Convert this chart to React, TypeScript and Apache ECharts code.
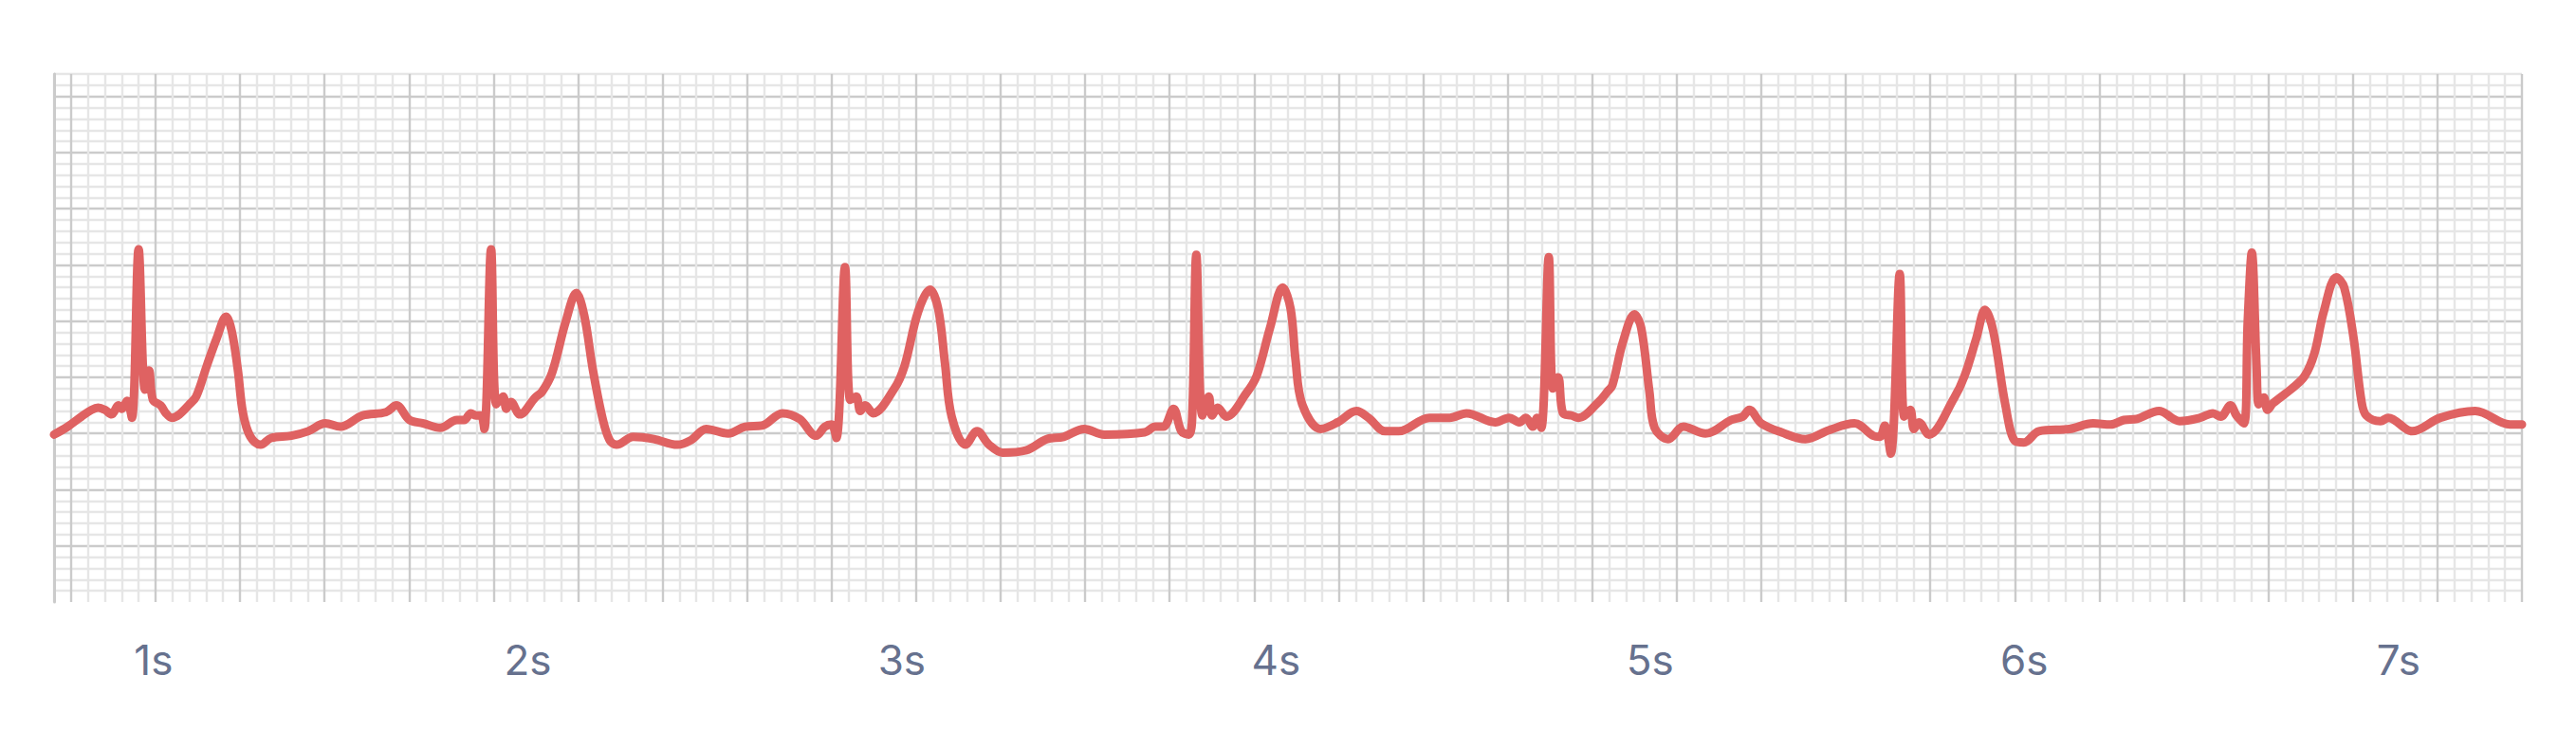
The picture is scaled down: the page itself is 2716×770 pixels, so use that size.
import React, { useEffect, useRef } from "react";
import * as echarts from "echarts";

// Time in seconds of each traced sample
const TIME_S = [
  0.734, 0.77, 0.807, 0.834, 0.852, 0.87, 0.888, 0.906, 0.915, 0.929, 0.942, 0.96, 0.977, 0.988, 0.998,
  1.019, 1.033, 1.049, 1.069, 1.096, 1.114, 1.142, 1.169, 1.194, 1.209, 1.225, 1.239, 1.259, 1.286, 1.314,
  1.368, 1.413, 1.459, 1.499, 1.558, 1.621, 1.649, 1.684, 1.721, 1.766, 1.811, 1.83, 1.848, 1.861, 1.875,
  1.884, 1.902, 1.916, 1.934, 1.943, 1.955, 1.979, 2.02, 2.038, 2.065, 2.101, 2.13, 2.151, 2.174, 2.201,
  2.219, 2.237, 2.282, 2.337, 2.4, 2.436, 2.477, 2.536, 2.581, 2.626, 2.681, 2.726, 2.771, 2.794, 2.812,
  2.825, 2.848, 2.862, 2.878, 2.889, 2.902, 2.923, 2.98, 3.007, 3.043, 3.075, 3.097, 3.115, 3.133, 3.17,
  3.201, 3.233, 3.269, 3.332, 3.387, 3.432, 3.487, 3.541, 3.649, 3.677, 3.699, 3.726, 3.747, 3.767, 3.776,
  3.787, 3.803, 3.82, 3.829, 3.844, 3.867, 3.921, 3.948, 3.984, 4.018, 4.039, 4.052, 4.07, 4.12, 4.165,
  4.215, 4.247, 4.292, 4.328, 4.41, 4.464, 4.509, 4.586, 4.623, 4.65, 4.668, 4.686, 4.698, 4.709, 4.729,
  4.74, 4.754, 4.767, 4.79, 4.808, 4.862, 4.885, 4.899, 4.926, 4.958, 4.976, 4.998, 5.012, 5.048, 5.089,
  5.148, 5.216, 5.247, 5.265, 5.297, 5.351, 5.415, 5.478, 5.546, 5.596, 5.614, 5.627, 5.643, 5.667, 5.679,
  5.695, 5.705, 5.718, 5.745, 5.813, 5.84, 5.872, 5.895, 5.917, 5.949, 5.976, 5.999, 6.039, 6.121, 6.184,
  6.23, 6.266, 6.301, 6.36, 6.415, 6.47, 6.504, 6.525, 6.551, 6.567, 6.587, 6.597, 6.608, 6.621, 6.627,
  6.64, 6.65, 6.665, 6.715, 6.749, 6.775, 6.8, 6.834, 6.855, 6.88, 6.901, 6.914, 6.952, 6.973, 7.036,
  7.112, 7.205, 7.298, 7.33,
];

// Amplitude in mV of each traced sample
const VOLTAGE_MV = [
  -0.01, 0.06, 0.15, 0.21, 0.23, 0.21, 0.17, 0.25, 0.22, 0.29, 0.14, 1.64, 0.39, 0.56, 0.3,
  0.25, 0.18, 0.14, 0.17, 0.26, 0.33, 0.6, 0.85, 1.04, 0.91, 0.57, 0.18, -0.03, -0.1, -0.04,
  -0.02, 0.02, 0.09, 0.06, 0.16, 0.19, 0.25, 0.12, 0.09, 0.05, 0.12, 0.12, 0.18, 0.16, 0.16,
  0.04, 1.64, 0.26, 0.33, 0.22, 0.28, 0.17, 0.32, 0.37, 0.54, 0.99, 1.25, 1.05, 0.57, 0.12,
  -0.06, -0.1, -0.03, -0.05, -0.1, -0.06, 0.04, 0.0, 0.06, 0.07, 0.18, 0.13, -0.02, 0.06, 0.08,
  -0.04, 1.48, 0.3, 0.33, 0.2, 0.25, 0.18, 0.4, 0.6, 1.08, 1.28, 1.11, 0.63, 0.15, -0.1,
  0.02, -0.1, -0.17, -0.15, -0.05, -0.03, 0.04, -0.01, 0.01, 0.06, 0.06, 0.22, 0.02, -0.01, 0.15,
  1.59, 0.16, 0.33, 0.16, 0.23, 0.15, 0.36, 0.51, 0.94, 1.3, 1.11, 0.66, 0.26, 0.04, 0.1,
  0.2, 0.14, 0.02, 0.02, 0.14, 0.14, 0.18, 0.1, 0.14, 0.1, 0.14, 0.06, 0.14, 0.05, 1.57,
  0.4, 0.5, 0.18, 0.16, 0.14, 0.28, 0.37, 0.43, 0.8, 1.06, 0.94, 0.37, 0.05, -0.05, 0.06,
  0.0, 0.12, 0.15, 0.21, 0.09, 0.01, -0.05, 0.03, 0.09, -0.02, -0.03, 0.07, -0.18, 1.42, 0.15,
  0.21, 0.04, 0.1, -0.01, 0.32, 0.51, 0.85, 1.1, 0.91, 0.26, -0.07, -0.08, 0.02, 0.04, 0.09,
  0.08, 0.12, 0.13, 0.2, 0.11, 0.14, 0.18, 0.15, 0.25, 0.16, 0.09, 0.99, 1.61, 0.57, 0.26,
  0.32, 0.21, 0.27, 0.4, 0.51, 0.71, 1.08, 1.39, 1.3, 0.85, 0.29, 0.16, 0.11, 0.14, 0.02,
  0.14, 0.2, 0.08, 0.08,
];

// Tick labels on the time axis (seconds)
const SECOND_TICKS = [1, 2, 3, 4, 5, 6, 7];

// Visible window
const T_MIN = 0.734;
const T_MAX = 7.33;
const V_MIN = -1.5;
const V_MAX = 3.2;

// ECG paper: number of small boxes across and down
const GRID_COLS = 146;
const GRID_ROWS = 47;

const MAJOR = "#cbcbcb";
const MINOR = "#e6e6e6";
const TRACE = "#df6262";
const LABEL = "#66718e";

export default function App() {
  const ref = useRef<HTMLDivElement>(null);

  useEffect(() => {
    if (!ref.current) return;
    const chart = echarts.init(ref.current, undefined, { renderer: "svg" });
    const data = TIME_S.map((t, i) => [t, VOLTAGE_MV[i]]);
    chart.setOption({
      animation: false,
      backgroundColor: "#ffffff",
      grid: { left: 57, right: 57, top: 78, bottom: 135, containLabel: false },
      xAxis: [
        {
          type: "value",
          min: T_MIN,
          max: T_MAX,
          position: "bottom",
          axisLine: { show: false, onZero: false },
          axisTick: { show: false },
          splitLine: { show: false },
          axisLabel: {
            customValues: SECOND_TICKS,
            formatter: (v: number) => (Number.isInteger(v) ? `${v}s` : ""),
            fontSize: 44,
            fontFamily: "Inter, 'Noto Sans', sans-serif",
            color: LABEL,
            margin: 39,
          },
        },
        {
          type: "value",
          min: 0,
          max: GRID_COLS,
          interval: 1,
          position: "top",
          axisLine: { show: false, onZero: false },
          axisTick: { show: false },
          axisLabel: { show: false },
          splitLine: {
            show: true,
            lineStyle: { color: [MINOR, MAJOR, MINOR, MINOR, MINOR], width: 2.4 },
          },
        },
      ],
      yAxis: [
        {
          type: "value",
          min: V_MIN,
          max: V_MAX,
          position: "left",
          axisLine: { show: true, onZero: false, lineStyle: { color: MAJOR, width: 3 } },
          axisTick: { show: false },
          axisLabel: { show: false },
          splitLine: { show: false },
        },
        {
          type: "value",
          min: 0,
          max: GRID_ROWS,
          interval: 1,
          inverse: true,
          position: "right",
          axisLine: { show: false, onZero: false },
          axisTick: { show: false },
          axisLabel: { show: false },
          splitLine: {
            show: true,
            showMaxLine: false,
            lineStyle: { color: [MINOR, MINOR, MAJOR, MINOR, MINOR], width: 2.4 },
          },
        },
      ],
      series: [
        {
          type: "line",
          xAxisIndex: 0,
          yAxisIndex: 0,
          data,
          showSymbol: false,
          smooth: 0.35,
          lineStyle: { color: TRACE, width: 9, cap: "round", join: "round" },
          z: 5,
        },
      ],
    });
    return () => chart.dispose();
  }, []);

  return (
    <div
      ref={ref}
      style={{ position: "fixed", left: 0, top: 0, width: "2716px", height: "770px" }}
    />
  );
}
